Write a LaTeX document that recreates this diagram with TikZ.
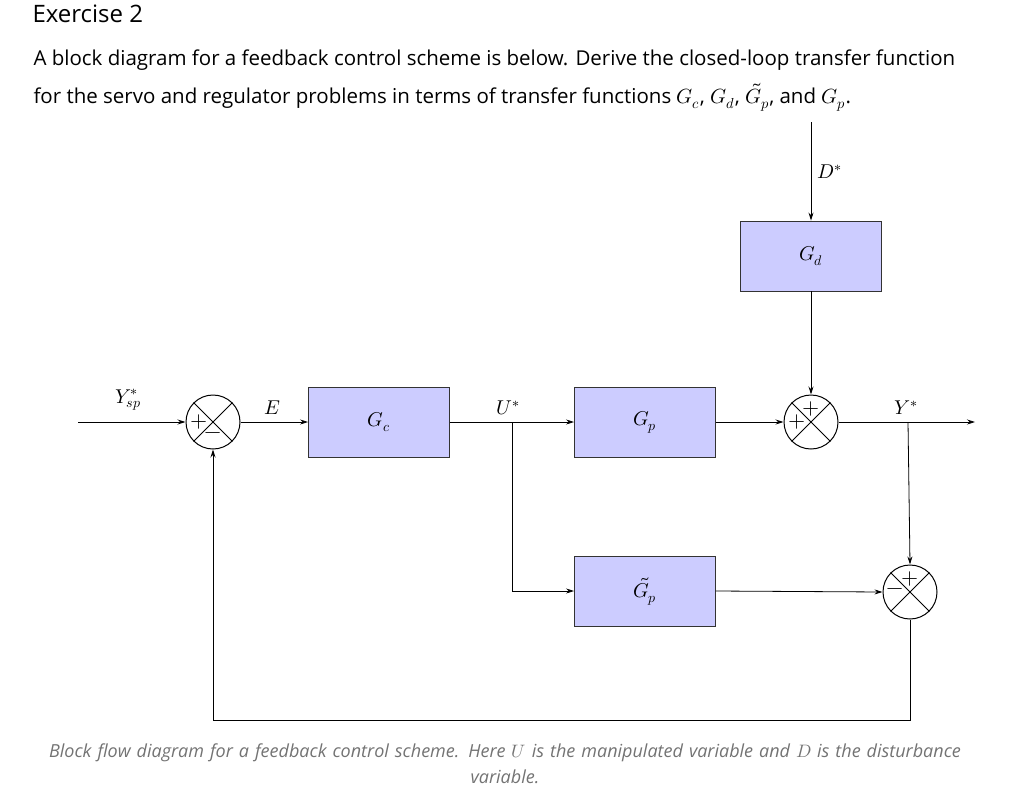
\documentclass[tikz,border=0pt]{standalone}
\usepackage{fontspec}
\setmainfont{Open Sans}
\usepackage{unicode-math}
\setmathfont{Latin Modern Math}
\DeclareMathSizes{20}{20}{14}{10}
\DeclareMathSizes{20.5}{20.5}{14.5}{10}
\DeclareMathSizes{18}{18}{13}{9}
\DeclareMathSizes{22}{22}{15}{11}
\usetikzlibrary{arrows.meta}
\begin{document}
\begin{tikzpicture}[x=1pt,y=-1pt,
  blk/.style={draw=black!80,fill={rgb,255:red,204;green,204;blue,255},minimum width=141pt,minimum height=70pt,inner sep=0pt,line width=0.9pt},
  sum/.style={draw,circle,minimum size=54pt,inner sep=0pt,line width=1pt},
  ar/.style={-{Stealth[length=8pt,width=5pt]},line width=0.8pt},
  lab/.style={font=\fontsize{20}{20}\selectfont},
  sg/.style={font=\fontsize{22}{22}\selectfont}]
\useasboundingbox (0,0) rectangle (1024,800);
\node[anchor=west,font=\fontsize{24}{28}\selectfont] at (29,14) {Exercise 2};
\node[anchor=west,font=\fontsize{20.5}{22}\selectfont] at (30,60) {A block diagram for a feedback control scheme is below. Derive the closed-loop transfer function};
\node[anchor=west,font=\fontsize{20.5}{22}\selectfont] at (30,97) {for the servo and regulator problems in terms of transfer functions $G_c$, $G_d$, $\tilde G_p$, and $G_p$.};
\node[blk] (gc) at (379,422) {\fontsize{20}{20}\selectfont$G_c$};
\node[blk] (gp) at (645,422) {\fontsize{20}{20}\selectfont$G_p$};
\node[blk] (gpt) at (645,591) {\fontsize{20}{20}\selectfont$\tilde G_p$};
\node[blk] (gd) at (811,256) {\fontsize{20}{20}\selectfont$G_d$};
\node[sum] (s1) at (213,422) {};
\node[sum] (s2) at (811,422) {};
\node[sum] (s3) at (910,592) {};
\foreach \s in {s1,s2,s3}{
 \draw[line width=0.8pt] (\s.north west) -- (\s.south east) (\s.north east) -- (\s.south west);}
\node[sg] at ([xshift=-14pt]s1.center) {$+$};
\node[sg] at ([yshift=-14pt]s1.center) {$-$};
\node[sg] at ([xshift=-14pt]s2.center) {$+$};
\node[sg] at ([yshift=13pt]s2.center) {$+$};
\node[sg] at ([xshift=-15pt]s3.center) {$-$};
\node[sg] at ([yshift=13pt]s3.center) {$+$};
\coordinate (in) at (78,422);
\coordinate (out) at (975,422);
\coordinate (dtop) at (811,122);
\coordinate (ub) at (512,422);
\coordinate (yb) at (908,422);
\coordinate (c1) at (910,720);
\coordinate (c2) at (213,720);
\draw[ar] (in) -- (s1.west);
\draw[ar] (s1.east) -- (gc.west);
\draw[ar] (gc.east) -- (gp.west);
\draw[ar] (gp.east) -- (s2.west);
\draw[ar] (s2.east) -- (out);
\draw[ar] (dtop) -- (gd.north);
\draw[ar] (gd.south) -- (s2.north);
\draw[ar] (ub) |- (gpt.west);
\draw[ar] (gpt.east) -- (s3.west);
\draw[ar] (yb) -- (s3.north);
\draw[ar] (s3.south) -- (c1) -- (c2) -- (s1.south);
\node[lab] at (128,400) {$Y^*_{sp}$};
\node[lab] at (272,408) {$E$};
\node[lab] at (508,408) {$U^*$};
\node[lab] at (906,408) {$Y^*$};
\node[lab] at (830,172) {$D^*$};
\node[font=\fontsize{18}{20}\selectfont\itshape,text=black!55,align=center,text width=980pt] at (505,764) {Block flow diagram for a feedback control scheme. Here $U$ is the manipulated variable and $D$ is the disturbance\\[6pt] variable.};
\end{tikzpicture}
\end{document}
